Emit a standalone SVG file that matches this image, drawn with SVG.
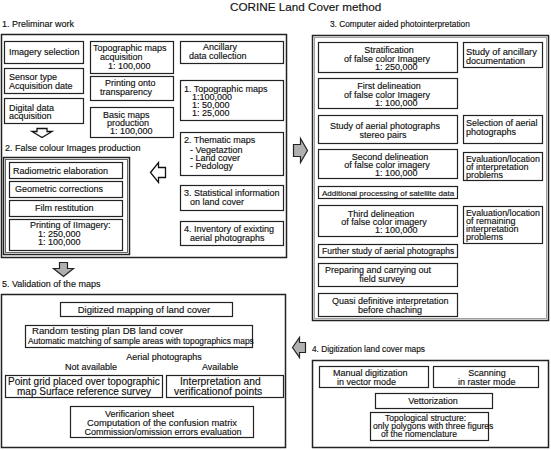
<svg xmlns="http://www.w3.org/2000/svg" width="551" height="450" viewBox="0 0 551 450">
<style>
text{font-family:"Liberation Sans",Arial,sans-serif;font-size:9px;fill:#111;stroke:#111;stroke-width:0.15}
.ttl{font-size:11.7px}
.m{text-anchor:middle}
.bx{fill:#fff;stroke:#222;stroke-width:1.2}
.sec{fill:#fff;stroke:#222;stroke-width:1.5}
.ha{fill:#fff;stroke:#111;stroke-width:1.3}
.ga{fill:#b0b0b0;stroke:#222;stroke-width:1.2}
</style>
<rect width="551" height="450" fill="#fff"/>
<text class="ttl" x="230" y="11">CORINE Land Cover method</text>

<g id="sec1">
<text x="2" y="27">1. Preliminar work</text>
<rect class="sec" x="1.5" y="34.5" width="285" height="223"/>
</g>
<g id="sec3">
<text x="330" y="27" style="font-size:8.3px">3. Computer aided photointerpretation</text>
<rect class="sec" x="312.5" y="35.5" width="236" height="285"/>
<rect x="314.5" y="37.5" width="232" height="281" fill="none" stroke="#888" stroke-width="0.8"/>
</g>
<g id="sec5">
<text x="2" y="287">5. Validation of the maps</text>
<rect class="sec" x="1.5" y="294.5" width="284" height="153"/>
</g>
<g id="sec4">
<text x="312" y="352" style="font-size:8.3px">4. Digitization land cover maps</text>
<rect class="sec" x="312.5" y="360.5" width="236" height="87"/>
</g>

<g id="n-imagery"><rect class="bx" x="4.5" y="41.5" width="79" height="22"/><text x="9" y="55">Imagery selection</text></g>
<g id="n-sensor"><rect class="bx" x="4.5" y="68.5" width="79" height="25"/><text x="9" y="80">Sensor type</text><text x="9" y="89">Acquisition date</text></g>
<g id="n-digital"><rect class="bx" x="4.5" y="98.5" width="79" height="25"/><text x="9" y="111">Digital data</text><text x="9" y="119">acquisition</text></g>
<g id="n-topoacq"><rect class="bx" x="90.5" y="41.5" width="83" height="32"/><text x="93" y="51">Topographic maps</text><text x="100" y="60">acquisition</text><text x="108" y="69">1: 100,000</text></g>
<g id="n-printing"><rect class="bx" x="90.5" y="76.5" width="83" height="24"/><text x="105" y="86">Printing onto</text><text x="100" y="95">transparency</text></g>
<g id="n-basic"><rect class="bx" x="90.5" y="107.5" width="83" height="30"/><text x="103" y="118">Basic maps</text><text x="107" y="126">production</text><text x="110" y="134">1: 100,000</text></g>
<g id="n-ancillary"><rect class="bx" x="180.5" y="41.5" width="103" height="22"/><text x="203" y="50">Ancillary</text><text x="189" y="59">data collection</text></g>
<g id="n-topomaps"><rect class="bx" x="180.5" y="80.5" width="103" height="40"/><text x="184" y="92">1. Topographic maps</text><text x="192" y="100">1:100,000</text><text x="192" y="108">1: 50,000</text><text x="192" y="116">1: 25,000</text></g>
<g id="n-thematic"><rect class="bx" x="180.5" y="132.5" width="103" height="43"/><text x="184" y="143">2. Thematic maps</text><text x="190" y="153">- Vegetaztion</text><text x="190" y="161">- Land cover</text><text x="190" y="169">- Pedology</text></g>
<g id="n-statistical"><rect class="bx" x="180.5" y="185.5" width="103" height="25"/><text x="184" y="196">3. Statistical information</text><text x="190" y="205">on land cover</text></g>
<g id="n-inventory"><rect class="bx" x="180.5" y="221.5" width="103" height="24"/><text x="184" y="232">4. Inventory of exixting</text><text x="190" y="241">aerial photographs</text></g>

<g id="sec2">
<text x="5" y="151">2. False colour Images production</text>
<rect class="sec" x="3.5" y="157.5" width="126" height="97"/>
<rect x="5.5" y="159.5" width="122" height="93" fill="none" stroke="#555" stroke-width="0.9"/>
</g>
<g id="n-radiometric"><rect class="bx" x="9.5" y="162.5" width="113" height="16"/><text x="13" y="174">Radiometric elaboration</text></g>
<g id="n-geometric"><rect class="bx" x="9.5" y="181.5" width="113" height="16"/><text x="15" y="192">Geometric corrections</text></g>
<g id="n-film"><rect class="bx" x="9.5" y="200.5" width="113" height="16"/><text x="35" y="211">Film restitution</text></g>
<g id="n-printimg"><rect class="bx" x="9.5" y="219.5" width="113" height="31"/><text x="30" y="228">Printing  of  IImagery:</text><text x="38" y="237">1: 250,000</text><text x="38" y="245">1: 100,000</text></g>

<g id="n-strat"><rect class="bx" x="318.5" y="42.5" width="139" height="30"/><text class="m" x="389" y="53">Stratification</text><text class="m" x="387" y="61.5">of false color Imagery</text><text x="375" y="69.5">1: 250,000</text></g>
<g id="n-studyanc"><rect class="bx" x="463.5" y="42.5" width="79" height="25"/><text x="466" y="55" style="font-size:9.3px">Study of ancillary</text><text x="466" y="63.5">documentation</text></g>
<g id="n-first"><rect class="bx" x="318.5" y="78.5" width="139" height="30"/><text class="m" x="389" y="89">First delineation</text><text class="m" x="387" y="97.5">of false color Imagery</text><text x="375" y="105.5">1: 100,000</text></g>
<g id="n-studyaer"><rect class="bx" x="318.5" y="115.5" width="139" height="28"/><text class="m" x="385" y="129">Study of aerial photographs</text><text class="m" x="383" y="137.5">stereo pairs</text></g>
<g id="n-selection"><rect class="bx" x="463.5" y="115.5" width="79" height="28"/><text x="466" y="126">Selection of aerial</text><text x="466" y="134.5">photographs</text></g>
<g id="n-second"><rect class="bx" x="318.5" y="149.5" width="139" height="29"/><text class="m" x="390" y="159.5">Second delineation</text><text class="m" x="387" y="168">of false color imagery</text><text x="375" y="176">1: 100,000</text></g>
<g id="n-eval1"><rect class="bx" x="463.5" y="152.5" width="79" height="28"/><text x="466" y="162" style="font-size:8.8px">Evaluation/location</text><text x="466" y="170">of interpretation</text><text x="466" y="178">problems</text></g>
<g id="n-additional"><rect class="bx" x="318.5" y="186.5" width="139" height="12"/><text x="322" y="195.5" style="font-size:8px">Additional processing of satellite data</text></g>
<g id="n-third"><rect class="bx" x="318.5" y="205.5" width="139" height="31"/><text class="m" x="381" y="216.5">Third delineation</text><text class="m" x="384" y="225">of false color imagery</text><text x="375" y="233">1: 100,000</text></g>
<g id="n-eval2"><rect class="bx" x="463.5" y="206.5" width="79" height="37"/><text x="466" y="216" style="font-size:8.8px">Evaluation/location</text><text x="466" y="224">of remaining</text><text x="466" y="232">interpretation</text><text x="466" y="240">problems</text></g>
<g id="n-further"><rect class="bx" x="318.5" y="244.5" width="139" height="13"/><text x="322" y="254" style="font-size:8.5px">Further study of aerial photographs</text></g>
<g id="n-preparing"><rect class="bx" x="318.5" y="263.5" width="139" height="23"/><text x="325" y="273">Preparing and carrying out</text><text class="m" x="382" y="282">field survey</text></g>
<g id="n-quasi"><rect class="bx" x="318.5" y="293.5" width="139" height="23"/><text x="332" y="303.5">Quasi definitive interpretation</text><text class="m" x="390" y="312.5">before chaching</text></g>

<g id="n-manual"><rect class="bx" x="319.5" y="366.5" width="109" height="21"/><text x="333" y="376">Manual digitization</text><text x="337" y="384.5">in vector mode</text></g>
<g id="n-scanning"><rect class="bx" x="433.5" y="366.5" width="105" height="21"/><text class="m" x="487" y="376">Scanning</text><text x="458" y="384.5">in raster mode</text></g>
<g id="n-vettor"><rect class="bx" x="375.5" y="393.5" width="117" height="15"/><text class="m" x="433" y="404">Vettorization</text></g>
<g id="n-topological"><rect class="bx" x="370.5" y="412.5" width="118" height="28"/><text x="385" y="421" style="font-size:8.6px">Topological structure:</text><text x="373" y="429" style="font-size:8.6px">only polygons with three figures</text><text x="381" y="437" style="font-size:8.6px">of the nomenclature</text></g>

<g id="n-digitized"><rect class="bx" x="60.5" y="302.5" width="172" height="14"/><text class="m" x="144" y="313" style="font-size:9.5px">Digitized mapping of land cover</text></g>
<g id="n-random"><rect class="bx" x="25.5" y="325.5" width="227" height="22"/><text x="32" y="334" style="font-size:9.6px">Random testing plan DB land cover</text><text x="28" y="343.5" style="font-size:8.4px">Automatic matching of sample areas with topographics maps</text></g>
<g id="labels5"><text class="m" x="164" y="360">Aerial photographs</text><text x="65" y="370">Not available</text><text x="202" y="370">Available</text></g>
<g id="n-pointgrid"><rect class="bx" x="5.5" y="375.5" width="157" height="22"/><text x="8" y="385" style="font-size:10px">Point grid placed over topographic</text><text x="17" y="395" style="font-size:10px">map Surface reference survey</text></g>
<g id="n-interp"><rect class="bx" x="166.5" y="375.5" width="117" height="22"/><text x="180" y="385" style="font-size:10.3px">Interpretation and</text><text x="174" y="395" style="font-size:10.3px">verificationof points</text></g>
<g id="n-verif"><rect class="bx" x="70.5" y="406.5" width="183" height="31"/><text x="105" y="416.5">Verificarion sheet</text><text class="m" x="162" y="425.5" style="font-size:9.4px">Computation of the confusion matrix</text><text class="m" x="163" y="434.5">Commission/omission errors evaluation</text></g>

<g id="connectors">
<polygon class="ha" points="37,128.5 47,128.5 47,131.5 52,131.5 42,137.5 32,131.5 37,131.5"/>
<polygon class="ha" points="150.5,172.5 158.5,162.5 158.5,167.5 165.5,167.5 165.5,177.5 158.5,177.5 158.5,182.5"/>
<polygon class="ga" points="293.5,144.5 300.5,144.5 300.5,138.5 307.5,150.5 300.5,162.5 300.5,156.5 293.5,156.5"/>
<polygon class="ga" points="59.5,262.5 67.5,262.5 67.5,268.5 73.5,268.5 63.5,276.5 53.5,268.5 59.5,268.5"/>
<polygon class="ga" points="292.5,347.5 299.5,337.5 299.5,342.5 305.5,342.5 305.5,352.5 299.5,352.5 299.5,357.5"/>
</g>
</svg>
